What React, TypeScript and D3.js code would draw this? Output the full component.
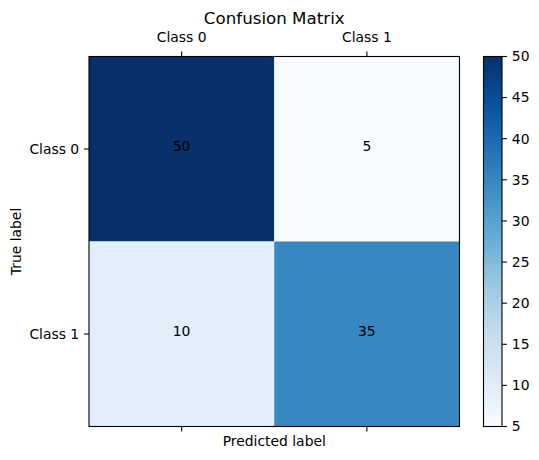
import * as d3 from 'd3'

// ─── Data ─────────────────────────────────────────────────────────────────────

const CLASSES = ['Class 0', 'Class 1']
const MATRIX = [
  [50, 5],
  [10, 35],
]
const CBAR_TICKS = [5, 10, 15, 20, 25, 30, 35, 40, 45, 50]
const BLUES = ['#f7fbff', '#deebf7', '#c6dbef', '#9ecae1', '#6baed6', '#4292c6', '#2171b5', '#08519c', '#08306b']

// ─── Layout ───────────────────────────────────────────────────────────────────

const W = 539
const H = 460
const PLOT = { left: 89, right: 459.5, top: 56.5, bottom: 426.5 }
const CBAR = { left: 483.5, right: 502, top: 56.5, bottom: 426.5 }
const FONT = '"DejaVu Sans", sans-serif'
const TICK = 4.9

export default function App() {
  const vals = MATRIX.flat()
  const vmin = d3.min(vals) ?? 0
  const vmax = d3.max(vals) ?? 1
  const color = d3.scaleSequential(d3.piecewise(d3.interpolateRgb, BLUES)).domain([vmin, vmax])

  const x = d3.scaleBand<string>().domain(CLASSES).range([PLOT.left, PLOT.right])
  const y = d3.scaleBand<string>().domain(CLASSES).range([PLOT.top, PLOT.bottom])
  const cy = d3.scaleLinear().domain([vmin, vmax]).range([CBAR.bottom, CBAR.top])

  const cells = MATRIX.flatMap((row, i) => row.map((v, j) => ({ i, j, v })))

  return (
    <div style={{ position: 'fixed', left: 0, top: 0 }}>
      <svg width={W} height={H} style={{ display: 'block', background: '#fff' }} fontFamily={FONT}>
        <defs>
          <linearGradient id="cbar" x1="0" y1="1" x2="0" y2="0">
            {BLUES.map((c, k) => (
              <stop key={k} offset={k / (BLUES.length - 1)} stopColor={c} />
            ))}
          </linearGradient>
        </defs>

        {/* Cells */}
        {cells.map((d) => (
          <rect
            key={`${d.i}-${d.j}`}
            x={x(CLASSES[d.j])}
            y={y(CLASSES[d.i])}
            width={x.bandwidth()}
            height={y.bandwidth()}
            fill={color(d.v)}
          />
        ))}

        {/* Annotations */}
        {cells.map((d) => (
          <text
            key={`t-${d.i}-${d.j}`}
            x={(x(CLASSES[d.j]) ?? 0) + x.bandwidth() / 2}
            y={(y(CLASSES[d.i]) ?? 0) + y.bandwidth() / 2}
            dy="0.17em"
            textAnchor="middle"
            fontSize={13.9}
            fill="#000"
          >
            {d.v}
          </text>
        ))}

        {/* Frame */}
        <rect
          x={PLOT.left}
          y={PLOT.top}
          width={PLOT.right - PLOT.left}
          height={PLOT.bottom - PLOT.top}
          fill="none"
          stroke="#000"
          strokeWidth={1.1}
        />

        {/* X ticks top & bottom */}
        {CLASSES.map((c) => {
          const cx = (x(c) ?? 0) + x.bandwidth() / 2
          return (
            <g key={`x-${c}`}>
              <line x1={cx} x2={cx} y1={PLOT.top} y2={PLOT.top - TICK} stroke="#000" strokeWidth={1.1} />
              <line x1={cx} x2={cx} y1={PLOT.bottom} y2={PLOT.bottom + TICK} stroke="#000" strokeWidth={1.1} />
              <text x={cx} y={PLOT.top - TICK - 9.5} textAnchor="middle" fontSize={13.9} fill="#000">
                {c}
              </text>
            </g>
          )
        })}

        {/* Y ticks */}
        {CLASSES.map((c) => {
          const yy = (y(c) ?? 0) + y.bandwidth() / 2
          return (
            <g key={`y-${c}`}>
              <line x1={PLOT.left} x2={PLOT.left - TICK} y1={yy} y2={yy} stroke="#000" strokeWidth={1.1} />
              <text x={PLOT.left - TICK - 4.9} y={yy} dy="0.35em" textAnchor="end" fontSize={13.9} fill="#000">
                {c}
              </text>
            </g>
          )
        })}

        {/* Title & axis labels */}
        <text x={(PLOT.left + PLOT.right) / 2} y={24} textAnchor="middle" fontSize={16.7} fill="#000">
          Confusion Matrix
        </text>
        <text x={(PLOT.left + PLOT.right) / 2} y={446} textAnchor="middle" fontSize={13.9} fill="#000">
          Predicted label
        </text>
        <text
          transform={`translate(21,${(PLOT.top + PLOT.bottom) / 2}) rotate(-90)`}
          textAnchor="middle"
          fontSize={13.9}
          fill="#000"
        >
          True label
        </text>

        {/* Colorbar */}
        <rect
          x={CBAR.left}
          y={CBAR.top}
          width={CBAR.right - CBAR.left}
          height={CBAR.bottom - CBAR.top}
          fill="url(#cbar)"
          stroke="#000"
          strokeWidth={1.1}
        />
        {CBAR_TICKS.map((t) => (
          <g key={`c-${t}`}>
            <line x1={CBAR.right} x2={CBAR.right + TICK} y1={cy(t)} y2={cy(t)} stroke="#000" strokeWidth={1.1} />
            <text x={CBAR.right + TICK + 4.9} y={cy(t)} dy="0.35em" fontSize={13.9} fill="#000">
              {t}
            </text>
          </g>
        ))}
      </svg>
    </div>
  )
}
